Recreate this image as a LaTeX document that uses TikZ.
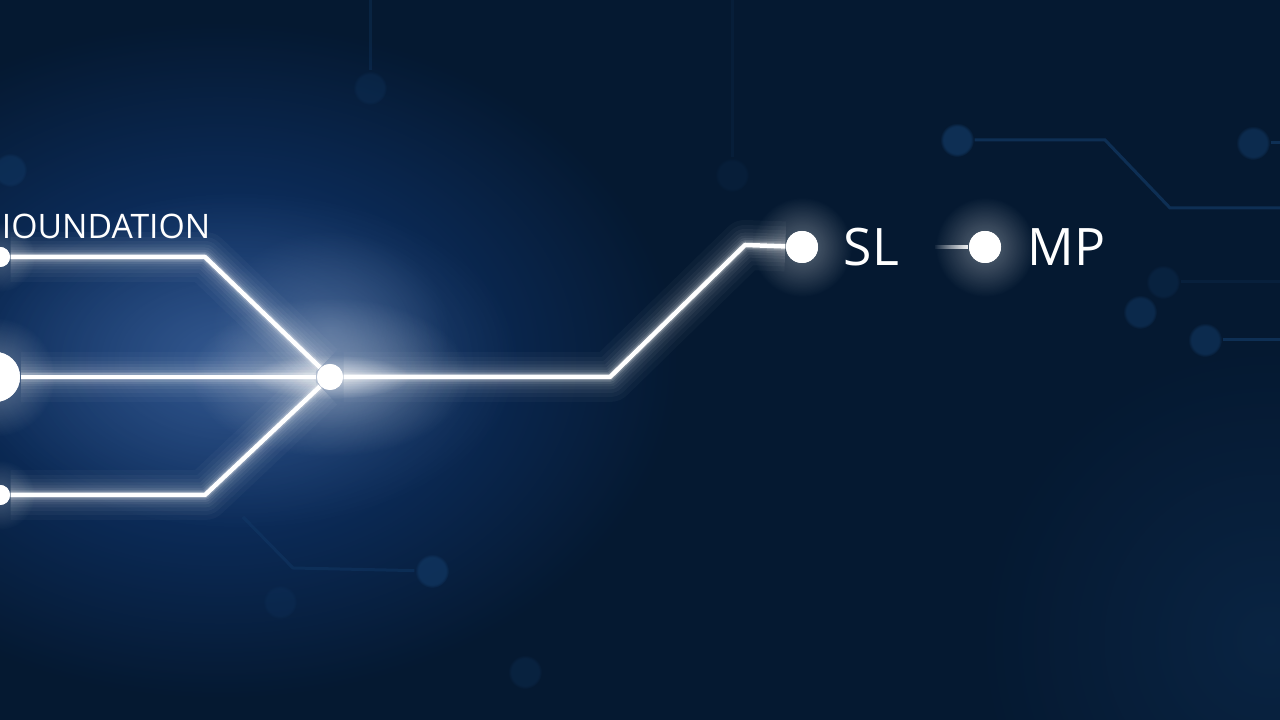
\documentclass[tikz,border=0pt]{standalone}
\usepackage{fontspec}
\newfontfamily\labelfont{Open Sans}
\usetikzlibrary{fadings}

\definecolor{fon}{RGB}{5,25,49}
\definecolor{fonglow}{RGB}{18,60,124}
\definecolor{faint}{RGB}{20,62,108}

\tikzfading[name=glowfade, inner color=transparent!0, outer color=transparent!100]
\tikzfading[name=fadeleft, left color=transparent!100, right color=transparent!0]

\tikzset{
  wire/.style={draw=white, line width=0.45mm, line join=round},
  halo/.style={draw=white, line join=round, draw opacity=#1},
  dot/.style={circle, fill=white, inner sep=0pt, minimum size=#1},
  ghost/.style={circle, fill=faint, inner sep=0pt, minimum size=3.4mm, fill opacity=#1,
    path fading=circle with fuzzy edge 20 percent},
  ghostwire/.style={draw=faint, line width=0.3mm, draw opacity=0.6},
  lbl/.style={text=white, inner sep=0pt, font=\labelfont\fontsize{14.7}{16}\selectfont},
  smalllbl/.style={text=white, inner sep=0pt, font=\labelfont\fontsize{9.6}{12}\selectfont}
}

\begin{document}
\begin{tikzpicture}
\useasboundingbox (0,0) rectangle (12.8,7.2);
\clip (0,0) rectangle (12.8,7.2);

%фон
\fill[fon] (0,0) rectangle (12.8,7.2);
\fill[fonglow, path fading=glowfade] (2.2,3.6) ellipse (4.6 and 3.4);
\fill[fonglow!70!white, path fading=glowfade, fill opacity=0.5] (2.4,3.6) ellipse (2.8 and 1.7);
\fill[fonglow!60!white, path fading=glowfade, fill opacity=0.4] (3.3,3.9) ellipse (1.2 and 1);
\fill[faint, path fading=glowfade, fill opacity=0.3] (12.7,0.8) circle (3);

%бледные дорожки
\node[ghost=0.6] (g1) at (9.57,5.8) {};
\coordinate (g1a) at (11.05,5.8);
\coordinate (g1b) at (11.7,5.12);
\coordinate (g1c) at (12.8,5.12);
\draw[ghostwire] (g1) -- (g1a) -- (g1b) -- (g1c);
\node[ghost=0.5] (g2) at (12.53,5.77) {};
\coordinate (g2a) at (12.8,5.77);
\draw[ghostwire] (g2) -- (g2a);
\node[ghost=0.45] (g3) at (11.4,4.08) {};
\node[ghost=0.25] (g3b) at (11.63,4.38) {};
\coordinate (g3c) at (12.8,4.38);
\draw[ghostwire, draw opacity=0.2] (g3b) -- (g3c);
\node[ghost=0.5] (g4) at (12.05,3.8) {};
\coordinate (g4a) at (12.8,3.8);
\draw[ghostwire] (g4) -- (g4a);
\node[ghost=0.55] (g5) at (4.32,1.49) {};
\coordinate (g5a) at (2.93,1.52);
\coordinate (g5b) at (2.43,2.03);
\draw[ghostwire, draw opacity=0.4] (g5) -- (g5a) -- (g5b);
\node[ghost=0.25] (g6) at (3.7,6.32) {};
\coordinate (g6a) at (3.7,7.2);
\draw[ghostwire, draw opacity=0.3] (g6) -- (g6a);
\node[ghost=0.15] (g7) at (7.32,5.45) {};
\coordinate (g7a) at (7.32,7.2);
\draw[ghostwire, draw opacity=0.15] (g7) -- (g7a);
\node[ghost=0.4] (g8) at (0.1,5.5) {};
\node[ghost=0.25] (g9) at (5.25,0.48) {};
\node[ghost=0.2] (g10) at (2.8,1.18) {};

%точки
\node[dot=2.6mm] (jn) at (3.3,3.43) {};
\node[dot=5mm] (mid) at (-0.05,3.43) {};
\node[dot=2mm] (top) at (0,4.63) {};
\node[dot=2mm] (bot) at (0,2.25) {};
\node[dot=3.2mm] (sl) at (8.02,4.73) {};
\node[dot=3.2mm] (mp) at (9.85,4.73) {};

\coordinate (tb) at (2.05,4.63);
\coordinate (bb) at (2.05,2.25);
\coordinate (k1) at (6.1,3.43);
\coordinate (k2) at (7.45,4.75);
\coordinate (mpl) at (9.35,4.73);

%свечение
\fill[white, path fading=glowfade, fill opacity=0.35] (jn) ellipse (1.4 and 0.8);
\fill[white, path fading=glowfade, fill opacity=0.6] (jn) ellipse (0.8 and 0.22);
\fill[white, path fading=glowfade, fill opacity=0.35] (sl) circle (0.5);
\fill[white, path fading=glowfade, fill opacity=0.35] (mp) circle (0.5);
\fill[white, path fading=glowfade, fill opacity=0.35] (mid) circle (0.6);
\fill[white, path fading=glowfade, fill opacity=0.25] (top) circle (0.35);
\fill[white, path fading=glowfade, fill opacity=0.25] (bot) circle (0.35);

\foreach \w/\o in {5/0.03, 4/0.035, 3.2/0.04, 2.5/0.05, 1.9/0.06, 1.4/0.08, 1/0.12, 0.7/0.2}{
  \draw[halo=\o, line width=\w mm] (top) -- (tb) -- (jn);
  \draw[halo=\o, line width=\w mm] (bot) -- (bb) -- (jn);
  \draw[halo=\o, line width=\w mm] (mid) -- (jn);
  \draw[halo=\o, line width=\w mm] (jn) -- (k1) -- (k2) -- (sl);
}

%дорожки
\draw[wire] (top) -- (tb) -- (jn);
\draw[wire] (bot) -- (bb) -- (jn);
\draw[wire] (mid) -- (jn);
\draw[wire] (jn) -- (k1) -- (k2) -- (sl);
\draw[white, line width=0.45mm, path fading=fadeleft] (mpl) -- (mp);

%точки поверх свечения
\fill[white] (jn) circle (1.3mm);
\fill[white] (mid) circle (2.5mm);
\fill[white] (top) circle (1mm);
\fill[white] (bot) circle (1mm);
\fill[white] (sl) circle (1.6mm);
\fill[white] (mp) circle (1.6mm);

%подписи
\node[lbl, anchor=west] (sltxt) at (8.43,4.73) {SL};
\node[lbl, anchor=west] (mptxt) at (10.27,4.73) {MP};
\node[smalllbl, anchor=east] (fnd) at (2.11,4.94) {IOUNDATION};

\end{tikzpicture}
\end{document}
